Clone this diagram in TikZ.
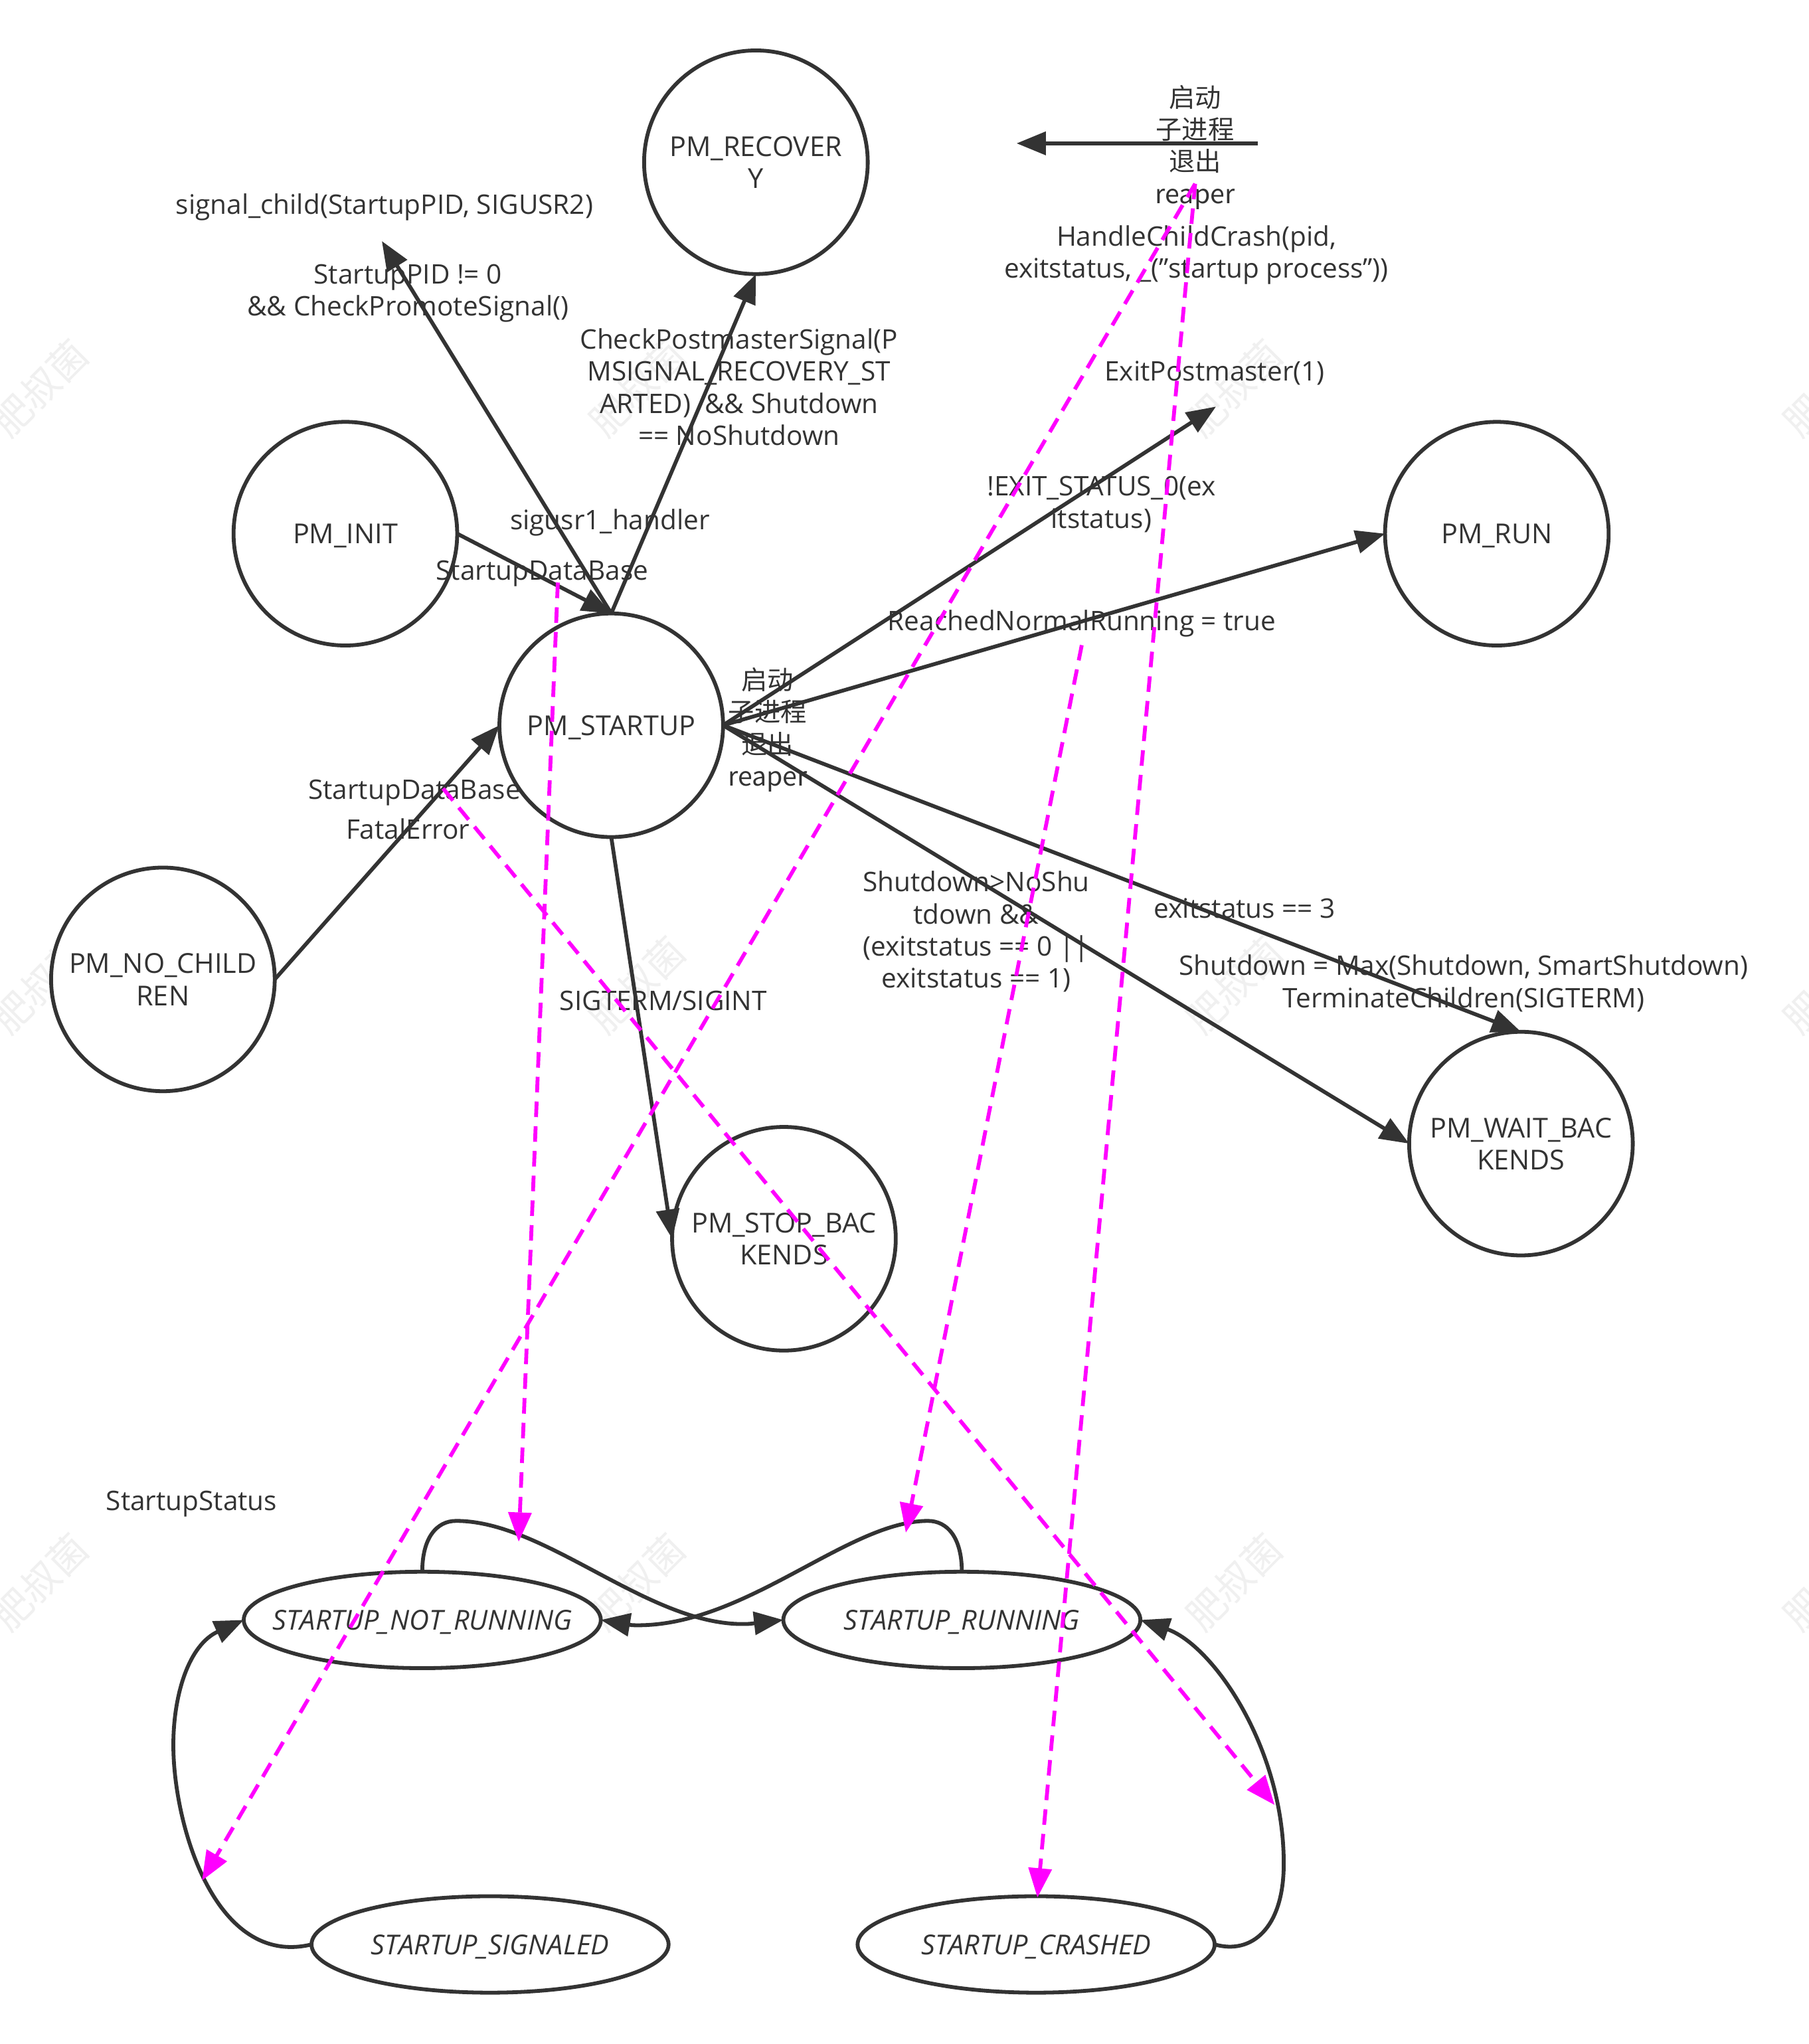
\documentclass[tikz,border=0pt]{standalone}
\usepackage{fontspec}
\setmainfont{Open Sans}
\newfontfamily\cjk{Noto Sans CJK SC}
\usetikzlibrary{arrows.meta,shapes.geometric}
\definecolor{ink}{HTML}{333333}
\definecolor{mag}{HTML}{FF00FF}
\definecolor{wm}{HTML}{F0F0F0}
\newcommand\lowtext[1]{\raisebox{-4pt}[\height][\depth]{\begin{tabular}{@{}c@{}}#1\end{tabular}}}
\tikzset{
  x=0.05cm,y=-0.05cm,
  state/.style={circle,draw=ink,line width=4.2pt,fill=white,minimum size=8.58cm,inner sep=0pt,outer sep=0pt,text=ink,font=\fontsize{30}{35}\selectfont},
  status/.style={ellipse,draw=ink,line width=4.2pt,fill=white,minimum width=13.7cm,minimum height=3.7cm,inner xsep=-40pt,inner ysep=0pt,outer sep=0pt,text=ink,font=\fontsize{30}{35}\itshape\selectfont},
  lab/.style={align=center,text=ink,inner sep=0pt,font=\fontsize{29.4}{35}\selectfont},
  cnlab/.style={align=center,text=ink,inner sep=0pt,font=\fontsize{28.5}{35}\cjk\selectfont},
  flow/.style={draw=ink,line width=4.2pt,-{Triangle[length=32pt,width=25pt]}},
  sig/.style={draw=mag,line width=4.2pt,dash pattern=on 17pt off 10pt,-{Triangle[length=32pt,width=25pt]}},
  wmark/.style={text=wm,rotate=45,inner sep=0pt,font=\fontsize{42}{42}\cjk\selectfont}
}
\begin{document}
\begin{tikzpicture}
\useasboundingbox (0,0) rectangle (1388,1568.4);
\fill[white] (0,0) rectangle (1388,1568.4);
% watermarks
\foreach \wx/\wy/\wn in {31/298/a,489/298/b,947/298/c,1405/298/d,31/756/e,489/756/f,947/756/g,1405/756/h,31/1214/i,489/1214/j,947/1214/k,1405/1214/l}
  \node[wmark] (wm\wn) at (\wx,\wy) {肥叔菌};
% states
\node[state] (recovery) at (580,124.5) {\lowtext{PM\_RECOVER\\Y}};
\node[state] (init) at (265,409.5) {\lowtext{PM\_INIT}};
\node[state] (startup) at (469,556.5) {\lowtext{PM\_STARTUP}};
\node[state] (run) at (1148.5,409.5) {\lowtext{PM\_RUN}};
\node[state] (nochild) at (125,751.5) {\lowtext{PM\_NO\_CHILD\\REN}};
\node[state] (stop) at (601.5,950.5) {\lowtext{PM\_STOP\_BAC\\KENDS}};
\node[state] (wait) at (1167,877.5) {\lowtext{PM\_WAIT\_BAC\\KENDS}};
\node[status] (nr) at (324,1243) {\lowtext{STARTUP\_NOT\_RUNNING}};
\node[status] (rn) at (738,1243) {\lowtext{STARTUP\_RUNNING}};
\node[status] (sd) at (376,1492) {\lowtext{STARTUP\_SIGNALED}};
\node[status] (cr) at (795,1492) {\lowtext{STARTUP\_CRASHED}};
% free ends
\coordinate (promote) at (293,185);
\coordinate (exitpm) at (933,312);
\coordinate (legA) at (965,110);
\coordinate (legB) at (780,110);
\coordinate (sigA) at (428,447);
\coordinate (sigB) at (398,1183);
\coordinate (reap) at (917,141);
\coordinate (sigC) at (155,1443);
\coordinate (sigD) at (796,1456);
\coordinate (sigE) at (830,495);
\coordinate (sigF) at (695,1176);
\coordinate (sigG) at (340,605);
\coordinate (sigH) at (978,1385);
% solid connectors
\path[flow] (init.east) -- (startup.north);
\path[flow] (nochild.east) -- (startup.west);
\path[flow] (startup.north) -- (promote);
\path[flow] (startup.north) -- (recovery.south);
\path[flow] (startup.east) -- (exitpm);
\path[flow] (startup.east) -- (run.west);
\path[flow] (startup.east) -- (wait.north);
\path[flow] (startup.east) -- (wait.west);
\path[flow] (startup.south) -- (stop.west);
\path[flow] (legA) -- (legB);
\path[flow] (nr.north) .. controls (324,1180) and (335,1167) .. (350,1167)
   .. controls (420,1167) and (500,1250) .. (575,1246) -- (rn.west);
\path[flow] (rn.north) .. controls (738,1180) and (727,1167) .. (712,1167)
   .. controls (650,1167) and (570,1250) .. (485,1247) -- (nr.east);
\path[flow] (sd.west) .. controls (165,1510) and (133,1400) .. (133,1339)
   .. controls (133,1300) and (145,1262) .. (nr.west);
\path[flow] (cr.east) .. controls (960,1500) and (985,1480) .. (985,1430)
   .. controls (985,1340) and (930,1262) .. (rn.east);
% labels
\node[lab] (t1) at (295,159) {signal\_child(StartupPID, SIGUSR2)};
\node[lab] (t2) at (313,225) {StartupPID != 0\\\&\& CheckPromoteSignal()};
\node[lab] (t3) at (567,297) {CheckPostmasterSignal(P\\MSIGNAL\_RECOVERY\_ST\\ARTED)\ \ \&\& Shutdown\\== NoShutdown};
\node[lab] (t4) at (468,401) {sigusr1\_handler};
\node[lab] (t5) at (416,440) {StartupDataBase};
\node[lab] (t6) at (318,608) {StartupDataBase};
\node[lab] (t7) at (313,636) {FatalError};
\node[cnlab] (t8) at (589,560) {启动\\子进程\\退出\\reaper};
\node[cnlab] (t9) at (917,113) {启动\\子进程\\退出\\reaper};
\node[lab] (t10) at (918,195.5) {HandleChildCrash(pid,\\exitstatus, \_("startup process"))};
\node[lab] (t11) at (932,286.5) {ExitPostmaster(1)};
\node[lab] (t12) at (845,387) {!EXIT\_STATUS\_0(ex\\itstatus)};
\node[lab] (t13) at (830,478.5) {ReachedNormalRunning = true};
\node[lab] (t14) at (955,697) {exitstatus == 3};
\node[lab] (t15) at (749,715) {Shutdown>NoShu\\tdown \&\&\\(exitstatus == 0 ||\\exitstatus == 1)};
\node[lab] (t16) at (1123,754.5) {Shutdown = Max(Shutdown, SmartShutdown)\\TerminateChildren(SIGTERM)};
\node[lab] (t17) at (509,768) {SIGTERM/SIGINT};
\node[lab] (t18) at (147,1154) {StartupStatus};
% signal connectors
\path[sig] (sigA) -- (sigB);
\path[sig] (reap) -- (sigC);
\path[sig] (reap) -- (sigD);
\path[sig] (sigE) -- (sigF);
\path[sig] (sigG) -- (sigH);
\end{tikzpicture}
\end{document}
